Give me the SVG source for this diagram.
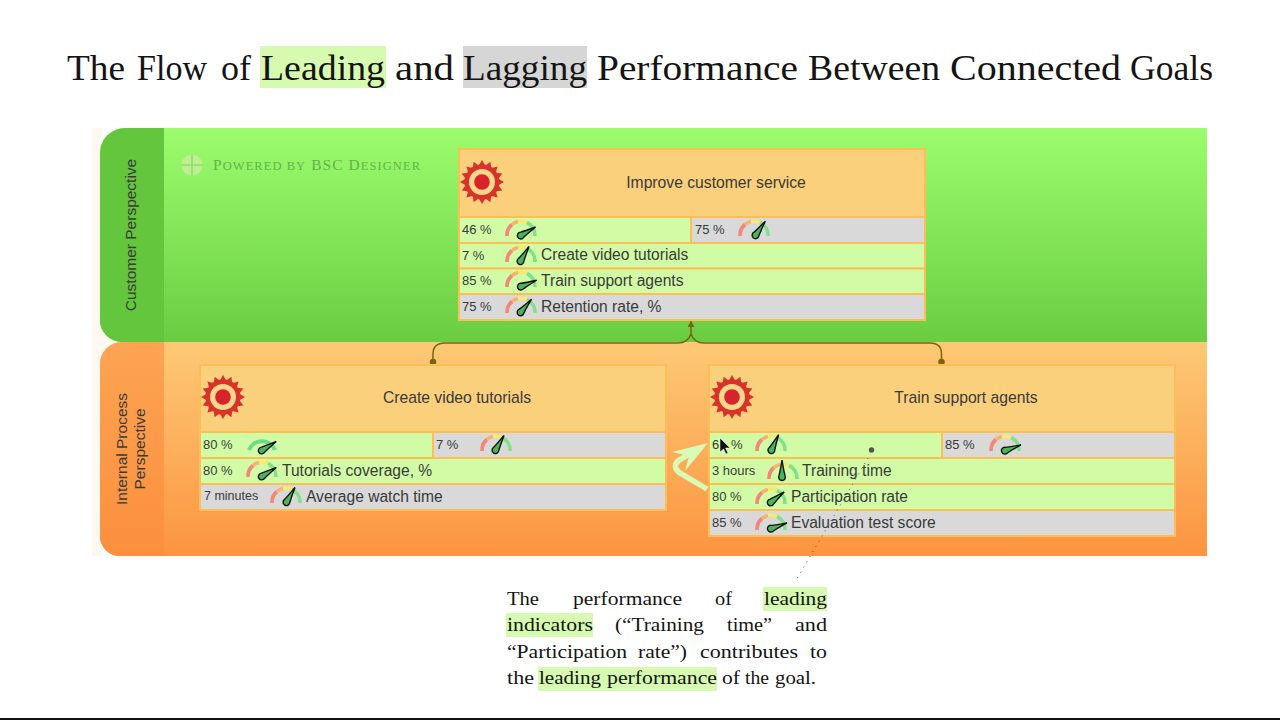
<svg xmlns="http://www.w3.org/2000/svg" width="1280" height="720" viewBox="0 0 1280 720">
<style>
.serif{font-family:"Liberation Serif",serif;fill:#141414}
.sans{font-family:"Liberation Sans",Arial,sans-serif;fill:#3a3a3a}
.title{font-size:36.500px}
.note{font-size:19.500px}
.h{font-size:15.700px;text-anchor:middle}
.v{font-size:13px}
.n{font-size:15.600px}
.lane{font-size:15.500px;text-anchor:middle}
.box{stroke:#fbbf55;stroke-width:2}
.hd{fill:#fbd07c}
.g{fill:#d2fba6}
.y{fill:#d9d9d9}
.a{fill:none;stroke-width:3.600}
.needle{stroke:#111;stroke-width:1.400;fill:#4bb45a}
.sr{fill:#d8332b}
</style>
<defs>
<linearGradient id="gl" x1="0" y1="0" x2="0" y2="1"><stop offset="0" stop-color="#9cfc6e"/><stop offset="1" stop-color="#6acd41"/></linearGradient>
<linearGradient id="ol" x1="0" y1="0" x2="0" y2="1"><stop offset="0" stop-color="#fdc976"/><stop offset="1" stop-color="#fc9440"/></linearGradient>
<linearGradient id="os" x1="0" y1="0" x2="0" y2="1"><stop offset="0" stop-color="#fca452"/><stop offset="1" stop-color="#fb8f3e"/></linearGradient>
<g id="arc">
<path class="a" d="M-14,1A14,14 0 0 1 -9,-10.500" stroke="#f2877a"/>
<path class="a" d="M-9,-10.500A14,14 0 0 1 -3,-13.500" stroke="#f7b26c"/>
<path class="a" d="M-3,-13.500A14,14 0 0 1 6,-12.500" stroke="#f6ea70"/>
<path class="a" d="M6,-12.500A14,14 0 0 1 14,1" stroke="#82e08a"/>
</g>
<path id="nd" class="needle" d="M0,-18Q1.800,-7 3,-2.500A3.400,3.400 0 1 1 -3,-2.500Q-1.800,-7 0,-18Z"/>
<path id="tooth" class="sr" d="M0,-22L4,-15V15L0,22L-4,15V-15Z"/>
<g id="sun">
<use href="#tooth"/>
<use href="#tooth" transform="rotate(22.5)"/>
<use href="#tooth" transform="rotate(45)"/>
<use href="#tooth" transform="rotate(67.5)"/>
<use href="#tooth" transform="rotate(90)"/>
<use href="#tooth" transform="rotate(112.5)"/>
<use href="#tooth" transform="rotate(135)"/>
<use href="#tooth" transform="rotate(157.5)"/>
<circle r="17.500" fill="#d8332b"/>
<circle r="13" fill="#f8d68a"/>
<circle r="7.800" fill="#d8232b"/>
</g>
<marker id="ah" markerWidth="7" markerHeight="7" refX="6" refY="3.500" orient="auto" markerUnits="userSpaceOnUse"><path d="M0,0L6,3.500L0,7Z" fill="#7a6410"/></marker>
</defs>
<rect width="1280" height="720" fill="#fff"/>
<rect x="0" y="718" width="1280" height="2" fill="#111"/>

<g id="title">
<rect x="260" y="46" width="126" height="42" fill="#d6fbb0"/>
<rect x="463" y="46" width="124" height="42" fill="#d6d6d6"/>
<text class="serif title" y="80"><tspan x="67" textLength="58" lengthAdjust="spacingAndGlyphs">The</tspan> <tspan x="137" textLength="70" lengthAdjust="spacingAndGlyphs">Flow</tspan> <tspan x="221" textLength="30" lengthAdjust="spacingAndGlyphs">of</tspan> <tspan x="261" textLength="124" lengthAdjust="spacingAndGlyphs">Leading</tspan> <tspan x="395" textLength="59" lengthAdjust="spacingAndGlyphs">and</tspan> <tspan x="463" textLength="124" lengthAdjust="spacingAndGlyphs">Lagging</tspan> <tspan x="597" textLength="201" lengthAdjust="spacingAndGlyphs">Performance</tspan> <tspan x="808" textLength="132" lengthAdjust="spacingAndGlyphs">Between</tspan> <tspan x="950" textLength="171" lengthAdjust="spacingAndGlyphs">Connected</tspan> <tspan x="1130" textLength="83" lengthAdjust="spacingAndGlyphs">Goals</tspan></text>
</g>

<g id="lanes">
<rect x="92" y="128" width="10" height="428" fill="#fdf9f1"/>
<rect x="100" y="320" width="24" height="44" fill="#fdf9f1"/>
<path d="M125,128H1207V342H122A22,22 0 0 1 100,320V153A25,25 0 0 1 125,128Z" fill="url(#gl)"/>
<path d="M125,128H164V342H122A22,22 0 0 1 100,320V153A25,25 0 0 1 125,128Z" fill="#63c63c"/>
<path d="M122,342H1207V556H120A20,20 0 0 1 100,536V364A22,22 0 0 1 122,342Z" fill="url(#ol)"/>
<path d="M122,342H164V556H120A20,20 0 0 1 100,536V364A22,22 0 0 1 122,342Z" fill="url(#os)"/>
<text class="sans lane" transform="translate(136,235) rotate(-90)">Customer Perspective</text>
<text class="sans lane" transform="translate(127,449) rotate(-90)">Internal Process</text>
<text class="sans lane" transform="translate(145,449) rotate(-90)">Perspective</text>
</g>

<g id="watermark" opacity="0.6">
<circle cx="192" cy="165" r="10.500" fill="#dcecb0"/>
<path d="M192,154.500V175.500M181.500,165H202.500" stroke="#8fce70" stroke-width="1.500"/>
<text x="213" y="170" font-family="'Liberation Serif',serif" font-size="15.500" fill="#3f8a35" textLength="207">P<tspan font-size="12.500">OWERED BY</tspan> BSC D<tspan font-size="12.500">ESIGNER</tspan></text>
</g>

<g id="connectors" fill="none" stroke="#7a6410" stroke-width="1.500">
<path d="M433,362V354Q433,343 445,343H678Q688,343 691,334" />
<path d="M941.500,362V354Q941.500,343 930,343H704Q694,343 691,334"/>
<path d="M691,334V321" marker-end="url(#ah)"/>
<circle cx="433" cy="362" r="2.500" fill="#7a6410"/>
<circle cx="941.500" cy="362" r="2.500" fill="#7a6410"/>
</g>

<g id="node-improve">
<rect class="box hd" x="459" y="149" width="466" height="68"/>
<rect class="box g" x="459" y="217" width="232" height="26"/>
<rect class="box y" x="691" y="217" width="234" height="26"/>
<rect class="box g" x="459" y="243" width="466" height="25.500"/>
<rect class="box g" x="459" y="268.500" width="466" height="25.500"/>
<rect class="box y" x="459" y="294" width="466" height="26"/>
<use href="#sun" x="482" y="182"/>
<text class="sans h" x="716" y="188">Improve customer service</text>
<text class="sans v" x="462" y="234">46 %</text>
<use href="#arc" x="521" y="235"/><use href="#nd" transform="translate(520,236) rotate(60)"/>
<text class="sans v" x="695" y="234">75 %</text>
<use href="#arc" x="754" y="235"/><use href="#nd" transform="translate(755,236) rotate(35)"/>
<text class="sans v" x="462" y="260">7 %</text>
<use href="#arc" x="521" y="261"/><use href="#nd" transform="translate(520,262) rotate(30)"/>
<text class="sans n" x="541" y="260">Create video tutorials</text>
<text class="sans v" x="462" y="285">85 %</text>
<use href="#arc" x="521" y="286"/><use href="#nd" transform="translate(520,287) rotate(68)"/>
<text class="sans n" x="541" y="286">Train support agents</text>
<text class="sans v" x="462" y="311">75 %</text>
<use href="#arc" x="521" y="312"/><use href="#nd" transform="translate(520,313) rotate(40)"/>
<text class="sans n" x="541" y="312">Retention rate, %</text>
</g>

<g id="node-video">
<rect class="box hd" x="200" y="365" width="466" height="67"/>
<rect class="box g" x="200" y="432" width="233" height="26"/>
<rect class="box y" x="433" y="432" width="233" height="26"/>
<rect class="box g" x="200" y="458" width="466" height="26"/>
<rect class="box y" x="200" y="484" width="466" height="26"/>
<use href="#sun" x="223" y="397"/>
<text class="sans h" x="457" y="403">Create video tutorials</text>
<text class="sans v" x="203" y="449">80 %</text>
<path d="M249,450A14,14 0 0 1 275,450" fill="none" stroke="#6fdc85" stroke-width="4"/>
<use href="#nd" transform="translate(261,451) rotate(58)"/>
<text class="sans v" x="436" y="449">7 %</text>
<use href="#arc" x="496" y="450"/><use href="#nd" transform="translate(495,451) rotate(30)"/>
<text class="sans v" x="203" y="475">80 %</text>
<use href="#arc" x="262" y="476"/><use href="#nd" transform="translate(261,477) rotate(58)"/>
<text class="sans n" x="282" y="476">Tutorials coverage, %</text>
<text class="sans" font-size="12.500" x="204" y="500">7 minutes</text>
<use href="#arc" x="286" y="502"/><use href="#nd" transform="translate(286,503) rotate(30)"/>
<text class="sans n" x="306" y="502">Average watch time</text>
</g>

<g id="node-train">
<rect class="box hd" x="709" y="365" width="466" height="67"/>
<rect class="box g" x="709" y="432" width="233" height="26"/>
<rect class="box y" x="942" y="432" width="233" height="26"/>
<rect class="box g" x="709" y="458" width="466" height="26"/>
<rect class="box g" x="709" y="484" width="466" height="26"/>
<rect class="box y" x="709" y="510" width="466" height="26"/>
<use href="#sun" x="732" y="397"/>
<text class="sans h" x="966" y="403">Train support agents</text>
<text class="sans v" y="449"><tspan x="712">6</tspan> <tspan x="731">%</tspan></text>
<use href="#arc" x="771" y="450"/><use href="#nd" transform="translate(771,451) rotate(25)"/>
<text class="sans v" x="945" y="449">85 %</text>
<use href="#arc" x="1005" y="450"/><use href="#nd" transform="translate(1004,451) rotate(70)"/>
<text class="sans v" x="712" y="475">3 hours</text>
<use href="#arc" x="783" y="478"/><use href="#nd" transform="translate(782,478)" style="fill:#f2e04a"/>
<text class="sans n" x="802" y="476">Training time</text>
<text class="sans v" x="712" y="501">80 %</text>
<use href="#arc" x="771" y="503"/><use href="#nd" transform="translate(770,503) rotate(52)"/>
<text class="sans n" x="791" y="502">Participation rate</text>
<text class="sans v" x="712" y="527">85 %</text>
<use href="#arc" x="771" y="529"/><use href="#nd" transform="translate(770,529) rotate(70)"/>
<text class="sans n" x="791" y="528">Evaluation test score</text>
</g>

<g id="callout">
<path d="M707,489L680,473Q672,467 678,461L692,452" fill="none" stroke="#d8fbb6" stroke-width="5.500"/>
<path d="M708,443L672,452L689,456L685,471Z" fill="#d8fbb6"/>
<path d="M720,438V452L723.500,449L726,454L728,453L725.500,448L730,448Z" fill="#111" stroke="#fff" stroke-width="0.500"/>
<circle cx="871.500" cy="450" r="2.700" fill="#555"/>
<path d="M868,458L795,582" stroke="#555" stroke-width="1" stroke-dasharray="1 5" fill="none"/>
</g>

<g id="note">
<rect x="763" y="587" width="64" height="24" fill="#d6fbb0"/>
<rect x="506" y="613" width="87" height="24" fill="#d6fbb0"/>
<rect x="538" y="667" width="179" height="24" fill="#d6fbb0"/>
<text class="serif note" y="605"><tspan x="507" textLength="32" lengthAdjust="spacingAndGlyphs">The</tspan> <tspan x="573" textLength="109" lengthAdjust="spacingAndGlyphs">performance</tspan> <tspan x="715" textLength="17" lengthAdjust="spacingAndGlyphs">of</tspan> <tspan x="764" textLength="63" lengthAdjust="spacingAndGlyphs">leading</tspan></text>
<text class="serif note" y="631"><tspan x="507" textLength="86" lengthAdjust="spacingAndGlyphs">indicators</tspan> <tspan x="615" textLength="89" lengthAdjust="spacingAndGlyphs">(“Training</tspan> <tspan x="727" textLength="45" lengthAdjust="spacingAndGlyphs">time”</tspan> <tspan x="795" textLength="32" lengthAdjust="spacingAndGlyphs">and</tspan></text>
<text class="serif note" y="658"><tspan x="507" textLength="120" lengthAdjust="spacingAndGlyphs">“Participation</tspan> <tspan x="638" textLength="49" lengthAdjust="spacingAndGlyphs">rate”)</tspan> <tspan x="700" textLength="98" lengthAdjust="spacingAndGlyphs">contributes</tspan> <tspan x="810" textLength="17" lengthAdjust="spacingAndGlyphs">to</tspan></text>
<text class="serif note" y="684"><tspan x="507" textLength="27" lengthAdjust="spacingAndGlyphs">the</tspan> <tspan x="539" textLength="62" lengthAdjust="spacingAndGlyphs">leading</tspan> <tspan x="607" textLength="110" lengthAdjust="spacingAndGlyphs">performance</tspan> <tspan x="722" textLength="18" lengthAdjust="spacingAndGlyphs">of</tspan> <tspan x="745" textLength="24" lengthAdjust="spacingAndGlyphs">the</tspan> <tspan x="775" textLength="41" lengthAdjust="spacingAndGlyphs">goal.</tspan></text>
</g>
</svg>
